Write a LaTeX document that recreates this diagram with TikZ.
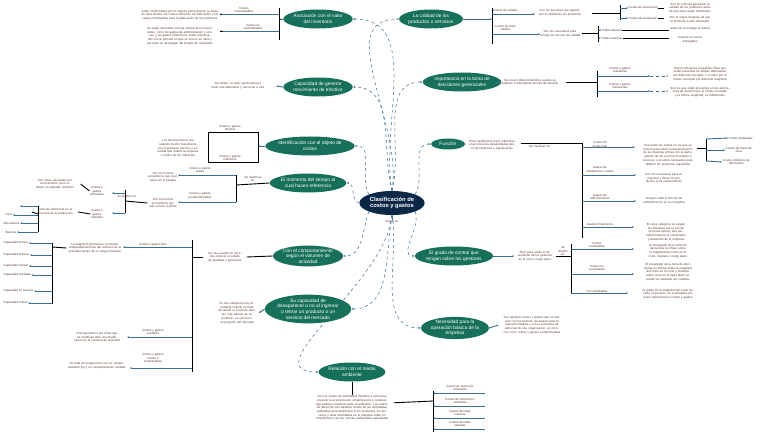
\documentclass[tikz,border=0pt]{standalone}
\usepackage{fontspec}
\setmainfont{Liberation Sans}
\usetikzlibrary{arrows.meta,shapes.geometric}
\definecolor{gr}{HTML}{17705A}
\definecolor{nv}{HTML}{0B2748}
\definecolor{bl}{HTML}{3A6E98}
\definecolor{tx}{HTML}{5A3A30}
\tikzset{
 main/.style={ellipse,fill=gr,text=white,align=center,font=\fontsize{4.8}{5.6}\selectfont,inner sep=0pt,minimum height=19pt,minimum width=60pt},
 ctr/.style={ellipse,fill=nv,text=white,align=center,font=\bfseries\fontsize{5.8}{6.8}\selectfont,inner sep=1pt,minimum height=24pt,minimum width=60pt},
 txt/.style={text=tx,align=center,font=\fontsize{3}{3.7}\selectfont,inner sep=0.5pt},
 lbl/.style={text=tx,align=center,font=\fontsize{3}{3.6}\selectfont,inner sep=0.5pt},
 blu/.style={draw=bl,line width=0.9pt,-{Stealth[length=2pt]}},
 bar/.style={draw=black,line width=0.9pt},
 dsh/.style={draw=bl,dashed,line width=0.5pt,-{Stealth[length=2.5pt]}}
}
\begin{document}
\begin{tikzpicture}[x=1pt,y=-1pt]
\useasboundingbox[fill=white] (0,0) rectangle (768,433);
% center
\node[ctr] (c) at (392,203) {Clasificación de\\costos y gastos};
\node[lbl] (seg) at (392,222) {Según su};
% main nodes
\node[main] (m1) at (318,19) {Asociación con el valor\\del inventario};
\node[main] (m2) at (318,87) {Capacidad de generar\\movimiento de efectivo};
\node[main] (m3) at (310,146) {Identificación con el objeto de\\costos};
\node[main] (m4) at (308,183) {El momento del tiempo al\\cual hacen referencia};
\node[main] (m5) at (308,256) {Con el comportamiento\\según el volumen de\\actividad};
\node[main,minimum height=26pt] (m6) at (308,309) {Su capacidad de\\desaparecer o no al ingresar\\o retirar un producto o un\\servicio del mercado};
\node[main] (m7) at (352,372) {Relación con el medio\\ambiente};
\node[main] (r1) at (431,19) {La calidad de los\\productos o servicios};
\node[main] (r2) at (462,82) {Importancia en la toma de\\decisiones gerenciales};
\node[main,minimum width=34pt,minimum height=11pt] (r3) at (448,144) {Función};
\node[main] (r4) at (454,256) {El grado de control que\\tengan sobre los gestores};
\node[main] (r5) at (455,328) {Necesidad para la\\operación básica de la\\empresa};
% dashed connectors
\draw[dsh] (c.north) to[out=100,in=0] (m1.east);
\draw[dsh] (c.north) to[out=105,in=0] (m2.east);
\draw[dsh] (c.north west) to[out=120,in=0] (m3.east);
\draw[dsh] (c.west) to[out=170,in=0] (m4.east);
\draw[dsh] (c.south west) to[out=-110,in=0] (m5.east);
\draw[dsh] (c.south) to[out=-100,in=0] (m6.east);
\draw[dsh] (c.south) to[out=-95,in=180] (m7.west);
\draw[dsh] (c.north) to[out=80,in=180] (r1.west);
\draw[dsh] (c.north) to[out=75,in=180] (r2.west);
\draw[dsh] (c.north east) to[out=60,in=180] (r3.west);
\draw[dsh] (c.south east) to[out=-70,in=180] (r4.west);
\draw[dsh] (c.south) to[out=-80,in=180] (r5.west);
\draw[blu] (seg.north) -- (c.south);
% ---- m1
\coordinate (b1) at (279,8);\coordinate (b1e) at (279,40);
\draw[bar] (b1)--(b1e);
\draw[blu] (m1.west) -- (m1.west -| b1);
\node[lbl] (l11) at (244,10) {Costos\\inventariables};
\node[lbl] (l12) at (253,27) {Costos no\\inventariables};
\draw[blu] (b1 |- 0,14) -- (220,14);
\draw[blu] (b1 |- 0,31) -- (220,31);
\node[txt,text width=80pt] (t11) at (180,15) {están conformados por la materia prima directa, la mano de obra directa, los costos indirectos de fabricación y los cargos transferidos para la fabricación de los productos};
\node[txt,text width=84pt] (t12) at (180,36) {Se están asociados con las ventas de los inventarios, como los gastos de administración y ventas, y los gastos financieros; están relacionados con el período en que se incurre en ellos y por tanto se descargan del Estado de resultados};
\draw[bar] (t11.east) -- (220,14);
\draw[bar] (t12.east |- 0,31) -- (220,31);
% ---- m2
\node[txt,text width=75pt] (t21) at (238,86) {Se refiere: al valor sacrificado por tener una alternativa y renunciar a otra};
\draw[blu] (m2.west) -- (t21.east);
% ---- m3
\draw[bar] (208,132) -- (208,162) -- (258,162) -- (258,132) -- cycle;
\draw[blu] (m3.west) -- (258,146);
\node[lbl] (l31) at (230,128) {Costos y gastos\\directos};
\node[lbl] (l32) at (230,158) {Costos y gastos\\indirectos};
\node[txt,text width=42pt] (t31) at (178,148) {Los directos tienen una relación mucho más directa con el producto, servicio o actividad que realiza la empresa o centro de los indirectos};
% ---- m4
\node[lbl] (l40) at (253,179) {Se clasifican\\en:};
\draw[bar] (m4.west) -- (236,185);
\draw[bar] (236,175) -- (236,202);
\node[lbl] (l41) at (200,170) {Costos y gastos\\reales};
\node[lbl] (l42) at (200,196) {Costos y gastos\\predeterminados};
\draw[blu] (236,175) -- (178,175);
\draw[blu] (236,202) -- (178,202);
\node[txt,text width=30pt] (t41) at (163,177) {Son los hechos económicos que ocurrieron en el pasado};
\node[txt,text width=30pt] (t42) at (163,203) {Son los hechos económicos que aún no han ocurrido};
\node[lbl] (l43) at (127,196) {Se dividen en:};
\draw[bar] (125,190) -- (125,213);
\draw[bar] (t42.west) -- (125,201);
\node[lbl] (l44) at (97,191) {Costos o\\gastos\\estimados};
\node[lbl] (l45) at (97,214) {Costos o\\gastos\\estándar};
\draw[blu] (125,193) -- (112,193);
\draw[blu] (125,213) -- (112,213);
\node[txt,text width=50pt] (t43) at (55,184) {Son cifras calculadas por conocimiento, pero no tienen un respaldo científico};
\node[txt,text width=45pt] (t44) at (55,212) {Punto de referencia en la eficiencia de la producción};
\draw[bar] (l44.west) -- (t43.east);
\draw[bar] (l45.west) -- (t44.east);
\draw[bar] (38,206) -- (38,232);
\draw[bar] (t44.west) -- (38,214);
\node[lbl,anchor=west] (f1) at (5,215) {Fijos};
\node[lbl,anchor=west] (f2) at (3,223) {Alternativos};
\node[lbl,anchor=west] (f3) at (5,232) {Básicos};
\draw[blu] (38,206) -- (20,206);
\draw[blu] (38,215) -- (f1.east);
\draw[blu] (38,223) -- (f2.east);
\draw[blu] (38,232) -- (f3.east);
% ---- m5
\draw[bar] (192,240) -- (192,372);
\node[txt,text width=42pt] (t50) at (225,257) {Se usa cuando se necesita conocer el estado de pérdidas y ganancias};
\draw[bar] (m5.west) -- (t50.east);
\draw[bar] (t50.west) -- (192,257);
\node[lbl] (l51) at (153,245) {Costos y gastos fijos};
\draw[blu] (192,247) -- (123,247);
\node[txt,text width=56pt] (t51) at (95,248) {La magnitud permanece constante, independientemente del volumen de la actividad dentro de un rango relevante};
\draw[bar] (52,243) -- (52,304);
\draw[bar] (t51.west) -- (52,247);
\foreach \y/\t in {243/Capacidad teórica,255/Capacidad práctica,266/Capacidad normal,275/Capacidad instalada,291/Capacidad en servicio,303/Capacidad ociosa}{
 \node[lbl,anchor=west] (k\y) at (3,\y) {\t};
 \draw[blu] (52,\y) -- (k\y.east);
}
\node[lbl] (l52) at (153,332) {Costos y gastos\\variables};
\draw[blu] (192,337) -- (127,337);
\node[txt,text width=58pt] (t52) at (97,337) {Corresponden a las cifras que se modifican ante una modificación en el volumen de actividad};
\node[lbl] (l53) at (153,358) {Costos y gastos\\mixtos o\\semivariables};
\draw[blu] (192,368) -- (130,368);
\node[txt,text width=58pt] (t53) at (97,366) {Se trata de erogaciones con un comportamiento fijo y un comportamiento variable};
% ---- m6
\node[txt,text width=42pt] (t61) at (237,313) {Es una categoría muy importante cuando se trata de decidir el cierre de plantas o de adición de un producto, un servicio o un proyecto del mercado};
\draw[blu] (m6.west) -- (t61.east);
% ---- m7
\node[txt,text width=82pt] (t71) at (352,408) {Son los costos de actividades llevados a cabo para prevenir la ocurrencia de contaminación o residuos que podrían ocasionar daño al ambiente. Los costos de detección son aquellos costos de las actividades realizadas para determinar si los productos, los procesos y otras actividades de la empresa están en cumplimiento con las normas ambientales apropiadas};
\draw[bar] (m7.south) -- (t71.north);
\draw[bar] (433,391) -- (433,432);
\draw[bar] (t71.north east) ++(0,8) -- (433,401);
\foreach \y/\t/\n in {391/{Costos de detección\\ambiental}/e1,404/{Costos de prevención\\ambiental}/e2,416/{Costos de fallas\\internas}/e3,427/{Costos de fallas\\externas}/e4}{
 \node[lbl] (\n) at (460,\y-3) {\t};
 \draw[blu,{Stealth[length=2pt]}-] (433,\y+2) -- (485,\y+2);
}
% ---- r1
\draw[bar] (492,8) -- (492,44);
\draw[blu] (r1.east) -- (492,19);
\node[lbl] (l11r) at (505,10) {Costos de calidad};
\draw[blu] (492,14) -- (535,14);
\node[txt,text width=62pt] (t11r) at (560,13) {Son los procesos que garantizan la calidad de los productos};
\node[lbl] (l12r) at (505,28) {Costos de mala\\calidad};
\draw[blu] (492,34) -- (540,34);
\node[txt,text width=42pt] (t12r) at (560,34) {Son los necesarios para corregir los errores de calidad};
\draw[bar] (t11r.east) -- (620,13);
\draw[bar] (620,5) -- (620,20);
\node[lbl] (p1) at (643,8) {Costos de prevención};
\node[lbl] (p2) at (643,18) {Costos de evaluación};
\draw[blu] (620,8) -- (p1.west);
\draw[blu] (620,18) -- (p2.west);
\node[txt,text width=50pt] (tp1) at (690,8) {Son en el fin de garantizar la calidad de los productos antes de que estos estén terminados};
\node[txt,text width=50pt] (tp2) at (690,20) {Son el origen después de que el producto a sido terminado};
\draw[bar] (p1.east) -- (tp1.west |- p1.east);
\draw[bar] (p2.east) -- (tp2.west |- p2.east);
\draw[bar] (t12r.east |- 0,33) -- (598,33);
\draw[bar] (598,26) -- (598,42);
\node[lbl] (q1) at (612,30) {Fallas internas};
\node[lbl] (q2) at (612,38) {Fallas externas};
\draw[blu] (598,30) -- (q1.west);
\draw[blu] (598,38) -- (q2.west);
\node[txt,text width=40pt] (tq1) at (690,29) {Antes de la entrega al cliente};
\node[txt,text width=40pt] (tq2) at (690,40) {Cuando ya fueron entregados};
\draw[bar] (q1.east) -- (tq1.west |- q1.east);
\draw[bar] (q2.east) -- (tq2.west |- q2.east);
% ---- r2
\node[txt,text width=70pt] (t21r) at (530,82) {Se incurre diferencialmente cuando se analizan 2 alternativas futuras de decisión};
\draw[blu] (r2.east) -- (t21r.west);
\draw[bar] (t21r.east) -- (597,82);
\draw[bar] (597,71) -- (597,97);
\node[lbl] (l21r) at (620,70) {Costos y gastos\\relevantes};
\node[lbl] (l22r) at (620,86) {Costos y gastos\\irrelevantes};
\draw[blu] (597,76) -- (650,76);
\draw[blu] (597,91) -- (650,91);
\node[txt,text width=62pt] (t22r) at (700,74) {Hacen referencia a aquellas cifras que están presentes en ambas alternativas por diferente concepto, o el valor por el mismo concepto por diferente magnitud};
\node[txt,text width=62pt] (t23r) at (700,92) {Son los que están presentes en las alternativas de decisión por el mismo concepto y la misma magnitud, es indiferentes};
\draw[blu,dashed] (650,76) -- (t22r.west |- 0,76);
\draw[blu,dashed] (650,91) -- (t23r.west |- 0,91);
% ---- r3
\node[txt,text width=56pt] (t31r) at (492,145) {Esta clasificación hace referencia a las funciones desarrolladas dentro del empresa u organización};
\draw[blu] (r3.east) -- (t31r.west);
\node[lbl] (l30r) at (540,146) {Se clasifican en:};
\draw[bar] (t31r.east |- 0,143) -- (582,143);
\draw[bar] (582,143) -- (582,238);
\node[lbl] (l31r) at (600,145) {Costos de\\producción};
\node[lbl] (l32r) at (600,170) {Gastos de\\distribución y ventas};
\node[lbl] (l33r) at (600,197) {Gastos de\\administración};
\node[lbl] (l34r) at (600,224) {Gastos Financieros};
\foreach \y/\e in {147/635,175/636,201/636,227/634}{\draw[blu] (582,\y) -- (\e,\y);}
\node[txt,text width=56pt] (t32r) at (668,155) {Son todos los costos en los que se incurre para hacer la transformación de las materias primas con la participación de los recursos humanos y técnicos, e insumos necesarios para obtener los productos requeridos};
\node[txt,text width=46pt] (t33r) at (664,178) {Son los necesarios para almacenar y llevar los productos a los consumidores};
\node[txt,text width=46pt] (t34r) at (664,201) {Incluyen toda la función de administración en la compañía};
\node[txt,text width=50pt] (t35r) at (666,232) {En esta categoría se cargan los intereses por el uso de recursos ajenos, que permiten financiar el crecimiento y desarrollo de la empresa};
\draw[bar] (t32r.east |- 0,148) -- (706,148);
\draw[bar] (706,139) -- (706,161);
\node[lbl,anchor=west] (h1) at (728,138) {Costos materiales};
\node[lbl,anchor=west] (h2) at (725,150) {Costos de mano de\\obra};
\node[lbl,anchor=west] (h3) at (722,162) {Costos indirectos de\\fabricación};
\draw[blu] (706,139) -- (h1.west);
\draw[blu] (706,150) -- (h2.west);
\draw[blu] (706,161) -- (h3.west);
% ---- r4
\node[txt,text width=40pt] (t41r) at (535,256) {Sirve para medir el desempeño de los gestores en el corto o largo plazo};
\draw[blu] (r4.east) -- (t41r.west);
\node[lbl] (l40r) at (563,251) {Se\\dividen\\en:};
\draw[bar] (t41r.east) -- (571,256);
\draw[bar] (571,244) -- (571,293);
\node[lbl] (l41r) at (597,245) {Costos\\controlables};
\node[lbl] (l42r) at (597,268) {Costos no\\controlables};
\node[lbl] (l43r) at (597,291) {No controlables};
\draw[blu] (571,249) -- (634,249);
\draw[blu] (571,274) -- (634,274);
\draw[blu] (571,293) -- (628,293);
\node[txt,text width=50pt] (t42r) at (668,251) {Al encargado de la toma de decisiones le influye sobre la magnitud del costo en el corto, mediano o largo plazo};
\node[txt,text width=50pt] (t43r) at (668,272) {El encargado de la toma de decisiones no influye sobre la magnitud del costo en el corto y mediano plazo, pero en el largo plazo se puede ver afectado por cambios};
\node[txt,text width=52pt] (t44r) at (668,294) {Al grado de la magnitud del costo durante un período, no controlados por quien administra los costos y gastos};
% ---- r5
\node[txt,text width=65pt] (t51r) at (532,325) {Son aquellos costos y gastos que se asocian con los factores necesarios para la operación básica y con la estructura de personal de una organización; se conocen como costos y gastos comprometidos};
\draw[blu] (r5.east) -- (t51r.west);
\end{tikzpicture}
\end{document}
